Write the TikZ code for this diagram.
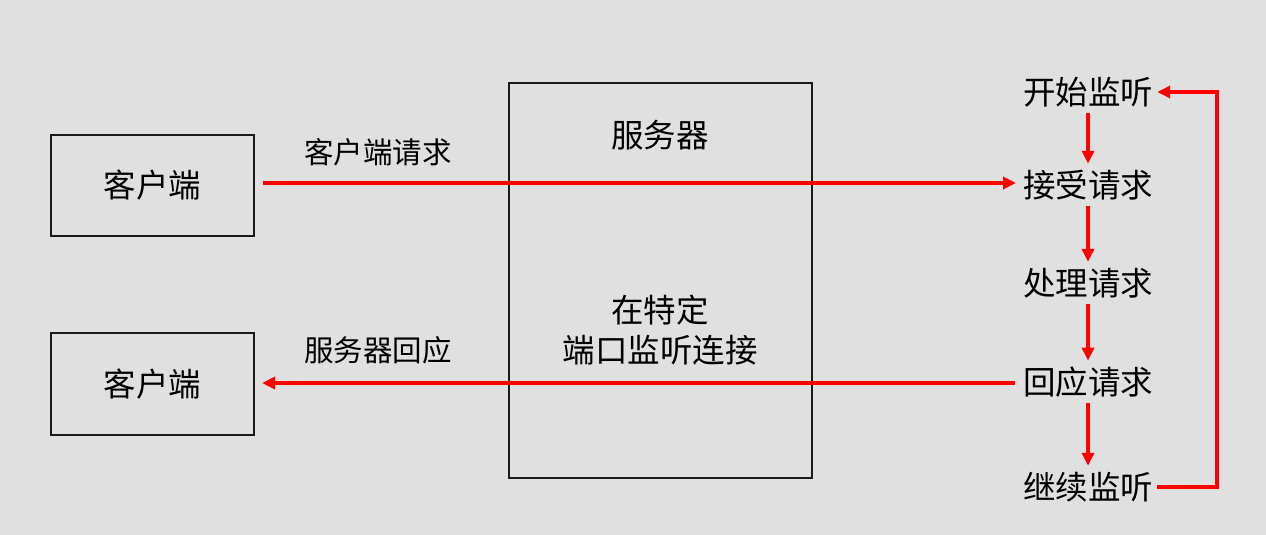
\documentclass[tikz,border=0pt]{standalone}
\usepackage{fontspec}
\newfontfamily\cjk{Noto Sans CJK SC}
\usetikzlibrary{arrows.meta}
\definecolor{bg}{HTML}{E0E0E0}
\definecolor{boxline}{HTML}{1A1A1A}
\definecolor{arr}{HTML}{FF0000}
\tikzset{
  box/.style={draw=boxline, line width=2pt, fill=none},
  txt/.style={inner sep=0pt, font=\cjk\fontsize{32.5}{40}\selectfont, text=black},
  lbl/.style={inner sep=0pt, font=\cjk\fontsize{29.5}{35}\selectfont, text=black},
  redarrow/.style={draw=arr, line width=3.3pt, -{Triangle[length=13pt,width=12pt]}},
}
\begin{document}
\begin{tikzpicture}[x=1pt,y=-1pt]
\useasboundingbox (0,0) rectangle (1266,535);
\fill[bg] (0,0) rectangle (1266,535);
% boxes
\node[box, minimum width=203pt, minimum height=101pt, anchor=north west, inner sep=0pt] (c1) at (50,134) {};
\node[txt] (c1t) at (c1.center) {客户端};
\node[box, minimum width=203pt, minimum height=102pt, anchor=north west, inner sep=0pt] (c2) at (50,332) {};
\node[txt] (c2t) at (c2.center) {客户端};
\node[box, minimum width=303pt, minimum height=395pt, anchor=north west, inner sep=0pt] (srv) at (508,82) {};
\node[txt] (srvt) at (660,135) {服务器};
\node[txt, align=center, font=\cjk\fontsize{32.5}{40}\selectfont] (srvd) at (660,330) {在特定\\端口监听连接};
% right column
\node[txt] (s1) at (1088,92) {开始监听};
\node[txt] (s2) at (1088,185) {接受请求};
\node[txt] (s3) at (1088,283) {处理请求};
\node[txt] (s4) at (1088,382) {回应请求};
\node[txt] (s5) at (1088,487) {继续监听};
% labels
\node[lbl] (l1) at (378,152) {客户端请求};
\node[lbl] (l2) at (378,350) {服务器回应};
% arrows
\coordinate (a1s) at (263,183);
\coordinate (a1e) at (1016,183);
\draw[redarrow] (a1s) -- (a1e);
\coordinate (a2s) at (1015,383);
\coordinate (a2e) at (262,383);
\draw[redarrow] (a2s) -- (a2e);
\draw[redarrow, shorten <=6pt, shorten >=6pt] (s1.south) -- (s2.north);
\draw[redarrow, shorten <=6pt, shorten >=6pt] (s2.south) -- (s3.north);
\draw[redarrow, shorten <=6pt, shorten >=6pt] (s3.south) -- (s4.north);
\draw[redarrow, shorten <=6pt, shorten >=6pt] (s4.south) -- (s5.north);
\coordinate (lp) at (1217,0);
\draw[redarrow, shorten <=4pt, shorten >=4pt] (s5.east) -- (s5.east -| lp) -- (s1.east -| lp) -- (s1.east);
\end{tikzpicture}
\end{document}
